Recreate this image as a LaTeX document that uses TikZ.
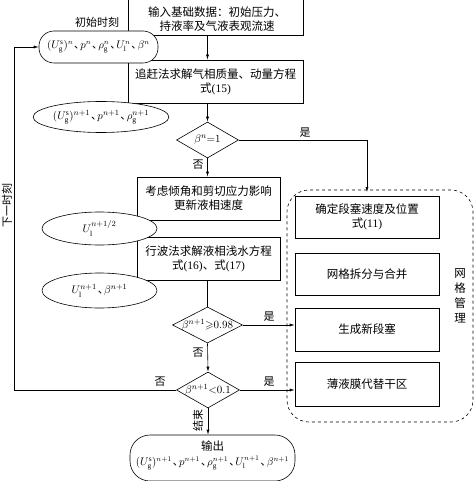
\documentclass[tikz,border=0pt]{standalone}
\usepackage{amssymb}
\usepackage{fontspec}
\setmainfont{Liberation Serif}
\newfontfamily\cjk{Noto Sans CJK SC}
\usetikzlibrary{shapes.geometric,arrows.meta}
\newcommand{\dn}{\kern1.2pt{\cjk ､}\kern0.6pt}
\begin{document}
\begin{tikzpicture}[x=1pt,y=-1pt,line width=0.6pt,
  >={Latex[length=5pt,width=3pt]},
  frame/.style={draw,rectangle,inner sep=0pt,fill=white},
  box/.style={draw,rectangle,inner sep=0pt,fill=white,align=center,
    font=\cjk\fontsize{11.5}{14}\selectfont},
  txt/.style={inner sep=0pt,align=center,font=\cjk\fontsize{11.5}{14}\selectfont},
  lbl/.style={inner sep=0pt,font=\cjk\fontsize{11}{13}\selectfont},
  oval/.style={draw,ellipse,inner sep=0pt,fill=white,font=\fontsize{11}{13}\selectfont},
  pill/.style={draw,rectangle,rounded corners=15pt,inner sep=0pt,fill=white,align=center,font=\fontsize{10.5}{13}\selectfont},
  dec/.style={draw,diamond,inner sep=0pt,fill=white},
  mtxt/.style={inner sep=0pt,font=\fontsize{11}{13}\selectfont}]
\useasboundingbox (0,0) rectangle (474,481);

% main column
\node[frame,minimum width=175pt,minimum height=48pt] (inp) at (215.5,11) {};
\node[txt] (inpt) at (217,19) {输入基础数据：初始压力、\\持液率及气液表观流速};
\node[box,minimum width=175pt,minimum height=43pt] (b2) at (215.5,81.5) {追赶法求解气相质量、动量方程\\式{\rmfamily(15)}};
\node[box,minimum width=143pt,minimum height=43pt] (b3) at (208.5,198.5) {考虑倾角和剪切应力影响\\更新液相速度};
\node[box,minimum width=143pt,minimum height=43pt] (b4) at (208.5,258.5) {行波法求解液相浅水方程\\式{\rmfamily(16)}、式{\rmfamily(17)}};

% start pill and ovals
\node[pill,minimum width=119pt,minimum height=32pt] (st) at (98.5,47) {$(U_{\mathrm g}^{\mathrm s})^{n}$\dn$p^{n}$\dn$\rho_{\mathrm g}^{n}$\dn$U_{\mathrm l}^{n}$\dn$\beta^{n}$};
\node[lbl] (stl) at (97,22) {初始时刻};
\node[oval,minimum width=117pt,minimum height=31pt] (e2) at (101,117) {$(U_{\mathrm g}^{\mathrm s})^{n+1}$\dn$p^{n+1}$\dn$\rho_{\mathrm g}^{n+1}$};
\node[oval,minimum width=115pt,minimum height=33pt] (e3) at (99.5,228.5) {$U_{\mathrm l}^{n+1/2}$};
\node[oval,minimum width=115pt,minimum height=35pt] (e4) at (99.5,290.5) {$U_{\mathrm l}^{n+1}$\dn$\beta^{n+1}$};

% decisions
\node[dec,minimum width=62pt,minimum height=36pt] (d1) at (207.5,140) {};
\node[mtxt] (d1t) at (d1) {$\beta^{n}{=}1$};
\node[dec,minimum width=70pt,minimum height=36pt] (d2) at (207.5,325) {};
\node[mtxt] (d2t) at (d2) {$\beta^{n+1}{\geqslant}0.98$};
\node[dec,minimum width=63pt,minimum height=36pt] (d3) at (208,390) {};
\node[mtxt] (d3t) at (d3) {$\beta^{n+1}{<}0.1$};

% output
\node[draw,rectangle,rounded corners=20pt,inner sep=0pt,minimum width=165pt,minimum height=46pt] (out) at (212.5,458) {};
\node[txt] (outt) at (212.5,446) {输出};
\node[mtxt,font=\fontsize{10.5}{12}\selectfont] (outf) at (212.5,463) {$(U_{\mathrm g}^{\mathrm s})^{n+1}$\dn$p^{n+1}$\dn$\rho_{\mathrm g}^{n+1}$\dn$U_{\mathrm l}^{n+1}$\dn$\beta^{n+1}$};

% grid management
\node[draw,dashed,rectangle,rounded corners=22pt,inner sep=0pt,minimum width=186pt,minimum height=232pt] (mg) at (380,306) {};
\node[box,minimum width=144pt,minimum height=42pt] (ga) at (367,217) {确定段塞速度及位置\\式{\rmfamily(11)}};
\node[box,minimum width=144pt,minimum height=42pt] (gb) at (367,274) {网格拆分与合并};
\node[box,minimum width=144pt,minimum height=43pt] (gc) at (367,329.5) {生成新段塞};
\node[box,minimum width=144pt,minimum height=44pt] (gd) at (367,384) {薄液膜代替干区};
\node[txt,font=\cjk\fontsize{11.5}{15}\selectfont] (mgl) at (460,296) {网\\格\\管\\理};

% connectors
\coordinate (ax) at (207.5,0);
\draw[->] (inp.south -| ax) -- (b2.north -| ax);
\draw[->] (b2.south -| ax) -- (d1.north);
\draw[->] (d1.south) -- (b3.north -| d1.south);
\node[lbl] (n1) at (198,165) {否};
\draw (b4.south -| ax) -- (d2.north);
\draw[->] (d2.south) -- (d3.north);
\node[lbl] (n2) at (198,353) {否};
\draw[->] (d3.south) -- (out.north -| d3.south);
\node[lbl,rotate=90] (n3) at (198,420) {结束};

\coordinate (ya) at (367,192);
\draw[->] (d1.east) -| (ya);
\node[lbl] (y1) at (305,133) {是};
\draw[->] (d2.east) -- (d2.east -| gc.west);
\node[lbl] (y2) at (269,317) {是};
\draw[->] (d3.east) -- (d3.east -| gd.west);
\node[lbl] (y3) at (269,382) {是};

\coordinate (lp) at (14,47);
\draw[->] (d3.west) -| (lp) -- (st.west);
\node[lbl] (n4) at (160,382) {否};
\node[lbl,rotate=90] (nt) at (7,205) {下一时刻};
\end{tikzpicture}
\end{document}
